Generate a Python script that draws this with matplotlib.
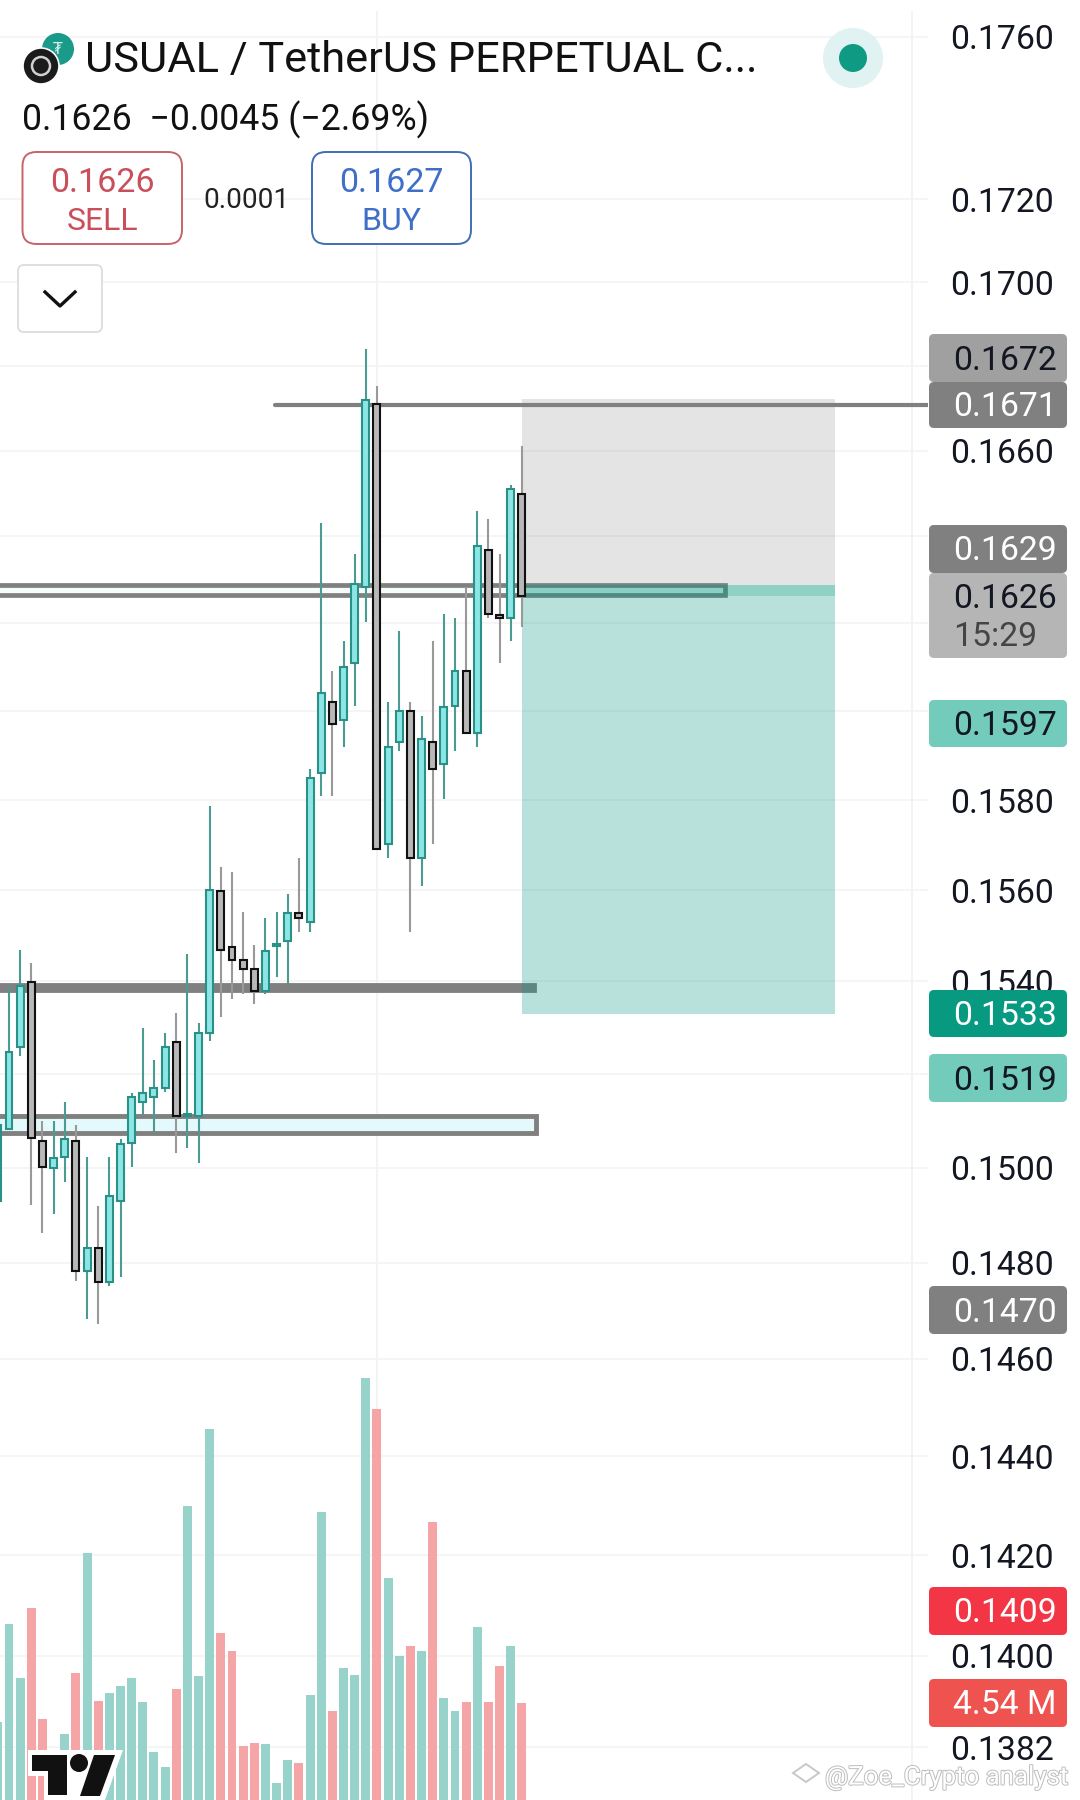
import matplotlib

matplotlib.use("Agg")
import matplotlib.pyplot as plt
import matplotlib.patheffects as pe
import numpy as np
from matplotlib.patches import Circle, FancyBboxPatch, Polygon, Rectangle
from matplotlib.ticker import NullLocator
from matplotlib.transforms import Affine2D

plt.rcParams["font.family"] = ["Roboto", "DejaVu Sans"]

# candles, first one is cut off by the left edge
opens = [0.14929, 0.15083, 0.15259, 0.15398, 0.15057, 0.15000, 0.15022, 0.15057, 0.14782, 0.14830,
         0.14760, 0.14929, 0.15053, 0.15139, 0.15150, 0.15170, 0.15268, 0.15110, 0.15110, 0.15289,
         0.15598, 0.15476, 0.15447, 0.15426, 0.15379, 0.15478, 0.15489, 0.15549, 0.15529, 0.15860,
         0.16020, 0.15980, 0.16110, 0.16283, 0.16710, 0.15702, 0.15930, 0.16000, 0.15671, 0.15930,
         0.15881, 0.16011, 0.16091, 0.15950, 0.16369, 0.16219, 0.16212, 0.16498]
highs = [0.15091, 0.15390, 0.15469, 0.15440, 0.15100, 0.15100, 0.15139, 0.15091, 0.15022, 0.14919,
         0.15022, 0.15060, 0.15159, 0.15298, 0.15229, 0.15289, 0.15331, 0.15460, 0.15309, 0.15787,
         0.15651, 0.15640, 0.15552, 0.15480, 0.15538, 0.15552, 0.15591, 0.15671, 0.15870, 0.16431,
         0.16091, 0.16159, 0.16360, 0.16840, 0.16753, 0.16020, 0.16182, 0.16020, 0.15989, 0.16159,
         0.16221, 0.16212, 0.16283, 0.16459, 0.16440, 0.16360, 0.16520, 0.16611]
lows = [0.14927, 0.15083, 0.15238, 0.14921, 0.14862, 0.14902, 0.14970, 0.14762, 0.14682, 0.14672,
        0.14751, 0.14770, 0.15001, 0.15112, 0.15074, 0.15161, 0.15032, 0.15042, 0.15010, 0.15270,
        0.15322, 0.15361, 0.15372, 0.15350, 0.15372, 0.15409, 0.15394, 0.15509, 0.15509, 0.15809,
        0.15809, 0.15919, 0.16011, 0.16203, 0.15691, 0.15671, 0.15910, 0.15509, 0.15609, 0.15702,
        0.15802, 0.15910, 0.15950, 0.15919, 0.16212, 0.16110, 0.16159, 0.16191]
closes = [0.15091, 0.15248, 0.15390, 0.15062, 0.15001, 0.15020, 0.15060, 0.14782, 0.14830, 0.14760,
          0.14940, 0.15051, 0.15150, 0.15159, 0.15170, 0.15259, 0.15110, 0.15114, 0.15289, 0.15600,
          0.15469, 0.15447, 0.15428, 0.15379, 0.15467, 0.15482, 0.15549, 0.15538, 0.15849, 0.16041,
          0.15971, 0.16100, 0.16290, 0.16719, 0.15691, 0.15919, 0.16000, 0.15671, 0.15937, 0.15870,
          0.16009, 0.16091, 0.15950, 0.16378, 0.16221, 0.16212, 0.16510, 0.16262]
# volume in millions
volumes = [3.67, 8.22, 5.69, 8.97, 3.81, 1.87, 3.09, 5.93, 11.54, 4.65,
           5.02, 5.35, 5.72, 4.60, 2.26, 1.56, 5.18, 13.77, 5.82, 17.35,
           7.83, 6.99, 2.54, 2.68, 2.62, 0.81, 1.89, 1.75, 4.93, 13.49,
           4.18, 6.19, 5.85, 19.73, 18.28, 10.40, 6.75, 7.22, 6.99, 13.02,
           4.79, 4.18, 4.60, 8.08, 4.60, 6.29, 7.22, 4.54]

price_ticks = [0.1760, 0.1720, 0.1700, 0.1680, 0.1660, 0.1640, 0.1620, 0.1600, 0.1580, 0.1560,
               0.1540, 0.1520, 0.1500, 0.1480, 0.1460, 0.1440, 0.1420, 0.1400, 0.1382]
price_tick_labels = [f"{p:.4f}" for p in price_ticks]

resistance_line = 0.16708
entry_box = (0.16265, 0.16288)
support_band = (0.15377, 0.15397)
lower_box = (0.15074, 0.15110)
stop_top = 0.16722
target_price = 0.15329
entry_strip = 0.16262

WIDTH, HEIGHT = 1080, 1800
PANE = 928
CANDLE_STEP = 11.15
FIRST_CANDLE_PX = 9
AXIS_FONT = 24.3

GRID = "#f3f3f3"
INK = "#131722"
UP_FILL, UP_EDGE, UP_WICK = "#8ce6e6", "#2a9187", "#4b9b93"
DOWN_FILL, DOWN_EDGE, DOWN_WICK = "#b8b8b8", "#111111", "#999999"
VOL_UP, VOL_DOWN = "#97d2cb", "#f5a5a6"
LEVEL = "#808080"
TEAL = "#089981"

fig = plt.figure(figsize=(WIDTH / 100, HEIGHT / 100), dpi=100, facecolor="white")
ax = fig.add_axes([0, 0, PANE / WIDTH, 1])
# pixel space with the origin at the top left, used for the app chrome
px = Affine2D().scale(1, -1).translate(0, HEIGHT)


def to_index(x_px):
    return (x_px - FIRST_CANDLE_PX) / CANDLE_STEP


x = np.arange(-1, len(opens) - 1)
opens_a, highs_a, lows_a, closes_a = map(np.array, (opens, highs, lows, closes))
is_up = closes_a >= opens_a

ax.set_yscale("log")
ax.set_xlim(to_index(0), to_index(PANE))
# 7075 px per unit of log price, 0.1760 sits at y=36.7
ax.set_ylim(0.1760 * np.exp(-(HEIGHT - 36.7) / 7075), 0.1760 * np.exp(36.7 / 7075))
ax.set_xticks([])
ax.grid(axis="y", color=GRID, lw=1.1, zorder=0)
ax.set_axisbelow(True)
for spine in ax.spines.values():
    spine.set_visible(False)
for vline_px in (377, 912):
    ax.axvline(to_index(vline_px), ymax=1 - 12 / HEIGHT, color=GRID, lw=1.4, zorder=0.2)

# drawn levels
left_edge = to_index(-10)
ax.add_patch(Rectangle((left_edge, lower_box[0]), to_index(536) - left_edge, lower_box[1] - lower_box[0],
                       fc="#e4f9fb", ec=LEVEL, lw=3.5, zorder=1))
ax.add_patch(Rectangle((left_edge, support_band[0]), to_index(536) - left_edge,
                       support_band[1] - support_band[0], fc=LEVEL, ec=LEVEL, lw=0.6, zorder=1))
ax.add_patch(Rectangle((left_edge, entry_box[0]), to_index(725) - left_edge, entry_box[1] - entry_box[0],
                       fc="#f6fcfc", ec=LEVEL, lw=3.4, zorder=1))

# short position tool
zone_left, zone_right = to_index(522), to_index(835)
ax.add_patch(Rectangle((zone_left, entry_box[1]), zone_right - zone_left, stop_top - entry_box[1],
                       fc=LEVEL, alpha=0.21, lw=0, zorder=1.5))
ax.add_patch(Rectangle((zone_left, target_price), zone_right - zone_left, entry_box[1] - target_price,
                       fc=TEAL, alpha=0.29, lw=0, zorder=1.5))
ax.add_patch(Rectangle((zone_left, entry_strip), zone_right - zone_left, entry_box[1] - entry_strip,
                       fc=TEAL, alpha=0.22, lw=0, zorder=1.5))
ax.plot([to_index(275), to_index(PANE)], [resistance_line, resistance_line], color=LEVEL, lw=3.0,
        solid_capstyle="round", zorder=1.8)

# candles
ax.vlines(x[is_up], lows_a[is_up], highs_a[is_up], color=UP_WICK, lw=1.5, zorder=2.5)
ax.vlines(x[~is_up], lows_a[~is_up], highs_a[~is_up], color=DOWN_WICK, lw=1.5, zorder=2.5)
body_low = np.minimum(opens_a, closes_a)
body_high = np.maximum(opens_a, closes_a)
ax.bar(x[is_up], (body_high - body_low)[is_up], bottom=body_low[is_up], width=0.62,
       color=UP_FILL, edgecolor=UP_EDGE, linewidth=1.5, zorder=3)
ax.bar(x[~is_up], (body_high - body_low)[~is_up], bottom=body_low[~is_up], width=0.62,
       color=DOWN_FILL, edgecolor=DOWN_EDGE, linewidth=1.5, zorder=3)

# volume pane shares the candle x axis
ax_vol = ax.twinx()
ax_vol.set_ylim(0, HEIGHT / 21.37)
ax_vol.patch.set_visible(False)
ax_vol.set_yticks([])
ax_vol.minorticks_off()
for spine in ax_vol.spines.values():
    spine.set_visible(False)
ax_vol.bar(x, volumes, width=0.8, color=[VOL_UP if up else VOL_DOWN for up in is_up], linewidth=0)

# twinx moves the price ticks to the left, so set them up afterwards
ax.set_yticks(price_ticks, price_tick_labels)
ax.yaxis.set_minor_locator(NullLocator())
ax.yaxis.tick_right()
ax.tick_params(axis="y", length=0, pad=15.8, labelsize=AXIS_FONT, labelcolor=INK)


def pill(top, bottom, color):
    box = FancyBboxPatch((933, top + 4), 130, bottom - top - 8, boxstyle="round,pad=4,rounding_size=5",
                         fc=color, ec="none", transform=px, zorder=5)
    fig.add_artist(box)


def chrome_text(x_pos, y_pos, s, size, color=INK, ha="left", zorder=6, **kwargs):
    fig.text(x_pos, y_pos, s, fontsize=size, color=color, ha=ha, va="center_baseline",
             transform=px, zorder=zorder, **kwargs)


# label, top, bottom, fill, text colour
pills = [
    ("0.1672", 334, 382, "#a0a0a0", INK),
    ("0.1671", 382, 428, "#808080", "white"),
    ("0.1629", 525, 573, "#808080", "white"),
    ("0.1626", 573, 658, "#b5b5b5", INK),
    ("0.1597", 700, 747, "#72cbbb", INK),
    ("0.1533", 990, 1037, TEAL, "white"),
    ("0.1519", 1054, 1102, "#72cbbb", INK),
    ("0.1470", 1286, 1334, "#808080", "white"),
    ("0.1409", 1587, 1635, "#f23645", "white"),
    ("4.54 M", 1679, 1727, "#ef5350", "white"),
]
for label, top, bottom, fill, text_color in pills:
    pill(top, bottom, fill)
    center = 596 if label == "0.1626" else (top + bottom) / 2 - 1
    chrome_text(953, center, label, AXIS_FONT, text_color)
chrome_text(953, 634, "15:29", AXIS_FONT, "#444444")

# header
chrome_text(85, 56, "USUAL / TetherUS PERPETUAL C...", 31.2, "#111111")
chrome_text(22, 116, "0.1626  \u22120.0045 (\u22122.69%)", 25.7, "#111111")

for x0, x1, edge, text_color, price, side in [
    (22.5, 182, "#c9626c", "#c9505b", "0.1626", "SELL"),
    (312, 471, "#3f6fb0", "#3f6fc8", "0.1627", "BUY"),
]:
    fig.add_artist(FancyBboxPatch((x0 + 14, 152 + 14), x1 - x0 - 28, 92 - 28,
                                  boxstyle="round,pad=14,rounding_size=14", fc="white", ec=edge, lw=1.4,
                                  transform=px, zorder=5))
    chrome_text((x0 + x1) / 2, 180, price, 24.5, text_color, ha="center")
    chrome_text((x0 + x1) / 2, 219, side, 23, text_color, ha="center")
chrome_text(246, 197, "0.0001", 20.2, "#222222", ha="center")

fig.add_artist(FancyBboxPatch((26, 273), 68, 51, boxstyle="round,pad=8,rounding_size=6", fc="white",
                              ec="#dcdcdc", lw=1.3, transform=px, zorder=5))
fig.add_artist(plt.Line2D([45, 60, 75], [292, 306, 292], color="#111111", lw=2.4, transform=px, zorder=6))

# symbol icons and status dot
fig.add_artist(Circle((58, 49), 16, fc="#1a9a88", ec="none", transform=px, zorder=5))
chrome_text(58, 48, "\u20ae", 11, "#d6f0ec", ha="center", family="DejaVu Sans")
fig.add_artist(Circle((41, 66), 18, fc="#1b1b1b", ec="white", lw=1.2, transform=px, zorder=6))
fig.add_artist(Circle((41, 66), 9, fc="#1b1b1b", ec="#d0d0d0", lw=1.8, transform=px, zorder=7))
fig.add_artist(Circle((853, 58), 30, fc="#e0f2f1", ec="none", transform=px, zorder=5))
fig.add_artist(Circle((853, 58), 14, fc="#0e9a83", ec="none", transform=px, zorder=6))

# tradingview logo
fig.add_artist(Polygon([(28, 1750), (123, 1750), (105, 1800), (44, 1800), (44, 1776), (28, 1776)],
                       fc="white", ec="none", transform=px, zorder=5))
fig.add_artist(Polygon([(32, 1755), (67, 1755), (67, 1795), (48, 1795), (48, 1771), (32, 1771)],
                       fc="#111111", ec="none", transform=px, zorder=6))
fig.add_artist(Circle((79, 1763), 9, fc="#111111", ec="none", transform=px, zorder=6))
fig.add_artist(Polygon([(94, 1755), (115, 1755), (100, 1796), (80, 1796)],
                       fc="#111111", ec="none", transform=px, zorder=6))

# watermark
fig.add_artist(Polygon([(793, 1773), (806, 1764), (819, 1773), (806, 1782)], fc="white", ec="#c8c8c8",
                       lw=1.4, transform=px, zorder=6))
chrome_text(825, 1775, "@Zoe_Crypto analyst", 18.6, "white", zorder=7,
            path_effects=[pe.withStroke(linewidth=1.4, foreground="#bdbdbd")])

fig.savefig("out.png", dpi=100, facecolor="white")
